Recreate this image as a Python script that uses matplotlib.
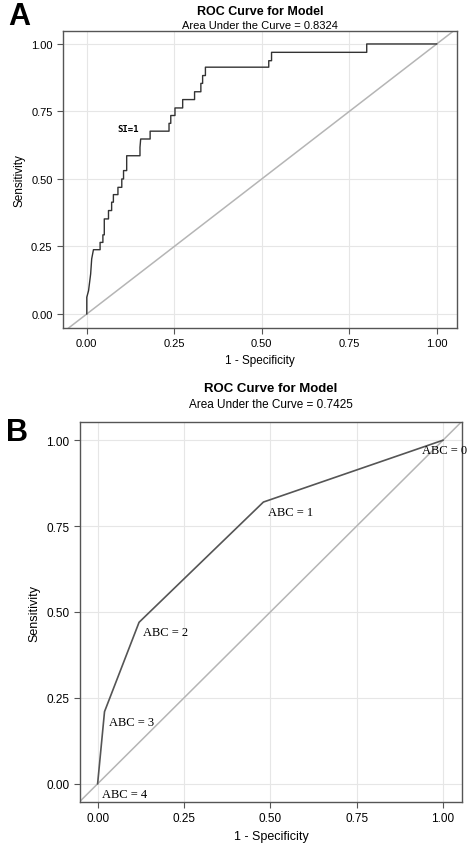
import matplotlib
matplotlib.use("Agg")
import matplotlib.pyplot as plt

plt.rcParams["font.family"] = ["Liberation Sans", "DejaVu Sans"]

# Panel A: empirical ROC staircase
fpr_a = [0.0, 0.0, 0.005, 0.008, 0.011, 0.014, 0.019, 0.038, 0.038, 0.046, 0.046,
         0.050, 0.050, 0.062, 0.062, 0.071, 0.071, 0.076, 0.076, 0.089, 0.089,
         0.100, 0.100, 0.105, 0.105, 0.114, 0.114, 0.152, 0.152, 0.154, 0.181,
         0.181, 0.235, 0.235, 0.240, 0.240, 0.252, 0.252, 0.274, 0.274, 0.308,
         0.308, 0.326, 0.326, 0.331, 0.331, 0.339, 0.339, 0.520, 0.520, 0.528,
         0.528, 0.800, 0.800, 1.0]
tpr_a = [0.0, 0.062, 0.086, 0.117, 0.148, 0.204, 0.238, 0.238, 0.265, 0.265, 0.293,
         0.293, 0.352, 0.352, 0.383, 0.383, 0.414, 0.414, 0.442, 0.442, 0.469,
         0.469, 0.500, 0.500, 0.531, 0.531, 0.586, 0.586, 0.617, 0.648, 0.648,
         0.677, 0.677, 0.706, 0.706, 0.735, 0.735, 0.763, 0.763, 0.794, 0.794,
         0.823, 0.823, 0.854, 0.854, 0.883, 0.883, 0.914, 0.914, 0.938, 0.938,
         0.969, 0.969, 1.0, 1.0]

# Panel B: ROC by ABC score cutoff
fpr_b = [0.0, 0.02, 0.12, 0.48, 1.0]
tpr_b = [0.0, 0.21, 0.47, 0.82, 1.0]
abc_labels = ["ABC = 4", "ABC = 3", "ABC = 2", "ABC = 1", "ABC = 0"]

ticks = [0.0, 0.25, 0.5, 0.75, 1.0]
tick_labels = ["0.00", "0.25", "0.50", "0.75", "1.00"]

W, H = 474, 853
fig = plt.figure(figsize=(W / 100, H / 100), dpi=100)
axA = fig.add_axes([63 / W, 1 - 329 / H, (457 - 63) / W, (329 - 32) / H])
axB = fig.add_axes([80 / W, 1 - 803 / H, (462 - 80) / W, (803 - 423) / H])


def style(ax, fs):
    ax.plot([-0.1, 1.1], [-0.1, 1.1], color="#b5b5b5", lw=1.1, zorder=1)
    ax.set_xticks(ticks)
    ax.set_yticks(ticks)
    ax.set_xticklabels(tick_labels, fontsize=fs)
    ax.set_yticklabels(tick_labels, fontsize=fs)
    ax.grid(color="#e6e6e6", lw=0.8)
    ax.set_axisbelow(True)
    for s in ax.spines.values():
        s.set_color("#555555")
        s.set_linewidth(1.0)
    ax.tick_params(length=4, color="#555555")
    ax.set_xlabel("1 - Specificity", fontsize=fs + 0.5)
    ax.set_ylabel("Sensitivity", fontsize=fs + 0.5)


axA.plot(fpr_a, tpr_a, color="#333333", lw=1.0, zorder=3)
style(axA, 8)
axA.set_xlim(-0.068, 1.058)
axA.set_ylim(-0.052, 1.048)
axA.text(0.118, 0.672, "SI=1", fontsize=6.5, family="DejaVu Sans Mono",
         fontweight="bold", ha="center", va="bottom")
axA.text(0.5, 1.052, "Area Under the Curve = 0.8324", transform=axA.get_yaxis_transform(),
         ha="center", va="bottom", fontsize=8)
fig.text(0.5 * (63 + 457) / W, 1 - 6 / H, "ROC Curve for Model", ha="center", va="top",
         fontsize=9, fontweight="bold")
fig.text(8 / W, 1 - 2 / H, "A", fontsize=22, fontweight="bold", va="top")

axB.plot(fpr_b, tpr_b, color="#555555", lw=1.2, zorder=3)
style(axB, 8.5)
axB.set_xlim(-0.051, 1.055)
axB.set_ylim(-0.053, 1.053)
for x, y, lab in zip(fpr_b, tpr_b, abc_labels):
    dx = -15 if lab == "ABC = 0" else 3
    axB.annotate(lab, (x, y), xytext=(dx, -3), textcoords="offset points",
                 family="Liberation Serif", fontsize=9, ha="left", va="top",
                 annotation_clip=False)
fig.text(0.5 * (80 + 462) / W, 1 - 383 / H, "ROC Curve for Model", ha="center", va="top",
         fontsize=9.5, fontweight="bold")
fig.text(0.5 * (80 + 462) / W, 1 - 399 / H, "Area Under the Curve = 0.7425", ha="center",
         va="top", fontsize=8.5)
fig.text(6 / W, 1 - 418 / H, "B", fontsize=22, fontweight="bold", va="top")

fig.savefig("out.png", dpi=100)
